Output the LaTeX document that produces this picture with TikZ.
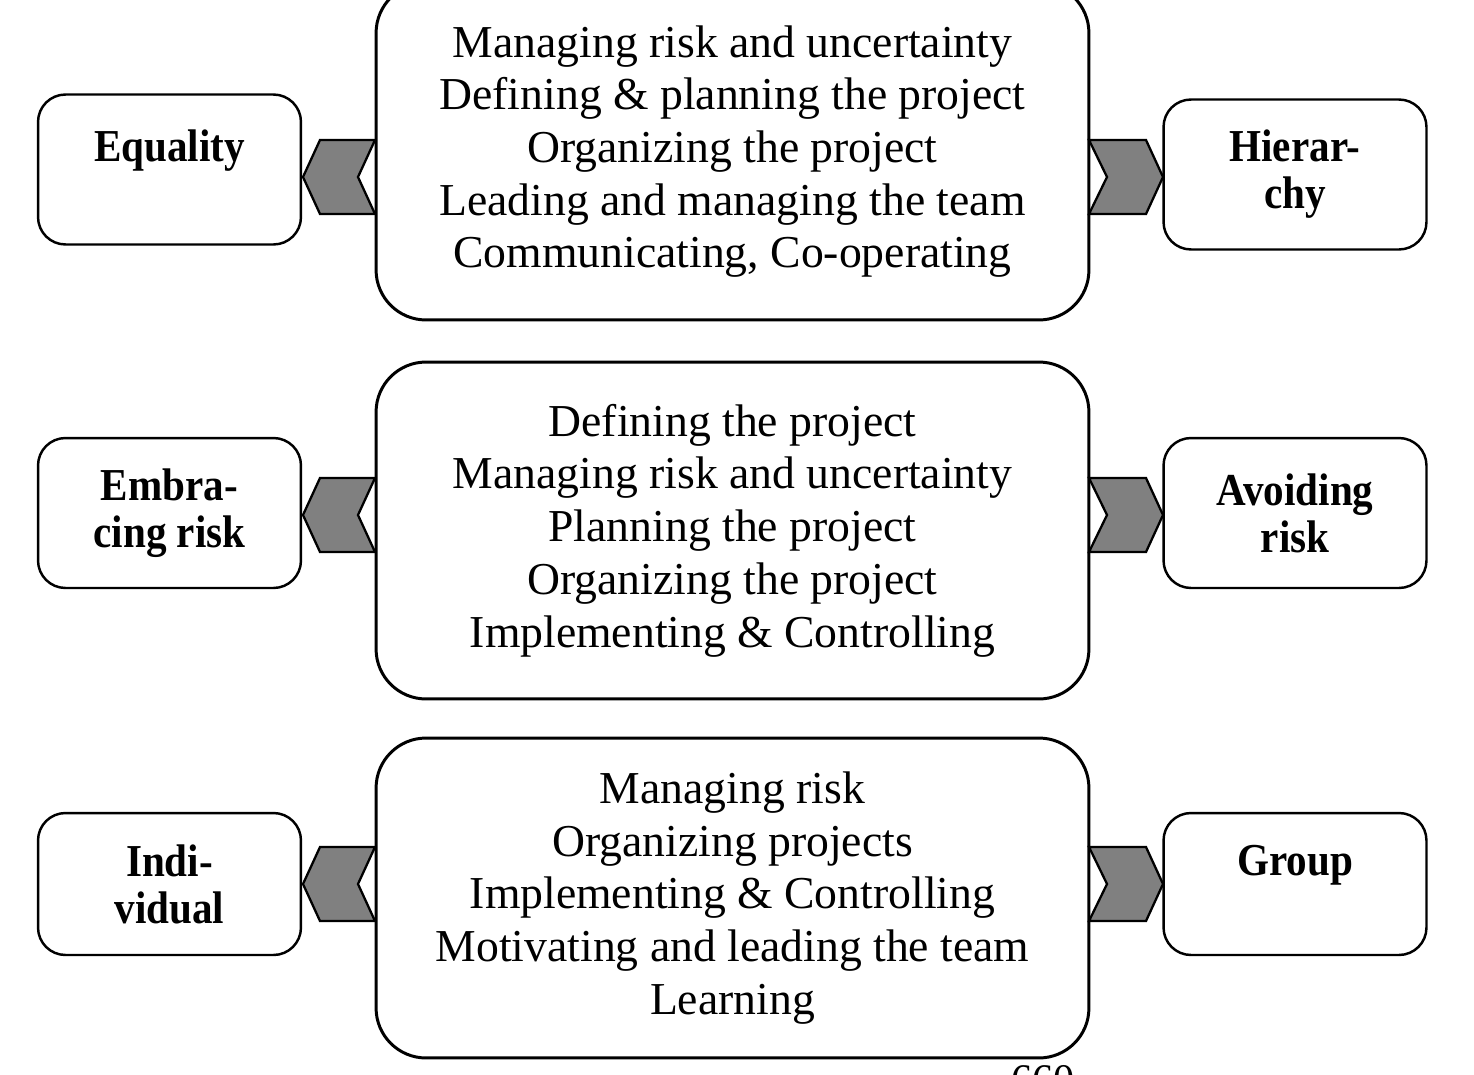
\documentclass[tikz,border=0pt]{standalone}
\usepackage{fontspec}
\setmainfont{Liberation Serif}
\newfontfamily\labelfont[FakeStretch=0.9]{Liberation Serif}
\usepackage{xcolor}
\usepackage{tikz}
\usetikzlibrary{positioning}

\begin{document}
\begin{tikzpicture}[
  x=0.02cm, y=-0.02cm,
  topics/.style={draw, line width=1.7pt, rectangle, rounded corners=1cm, align=center,
    minimum width=14.26cm, minimum height=6.74cm, inner sep=0pt,
    font=\fontsize{26}{30}\selectfont},
  dimension/.style={draw, line width=1.4pt, rectangle, rounded corners=0.55cm, align=center,
    minimum width=5.26cm, minimum height=3cm, inner sep=0pt,
    font=\labelfont\bfseries\fontsize{26}{26.7}\selectfont},
  chev/.style={draw, line width=1.3pt, fill=gray, line join=miter}
]
\useasboundingbox (0,0) rectangle (1474,1075);

% Blocs centraux
\node[topics] (topics1) at (732.5,151.5) {Managing risk and uncertainty\\
  Defining \& planning the project\\
  Organizing the project\\
  Leading and managing the team\\
  Communicating, Co-operating};

\node[topics] (topics2) at (732.5,530.5) {Defining the project\\
  Managing risk and uncertainty\\
  Planning the project\\
  Organizing the project\\
  Implementing \& Controlling};

\node[topics, minimum height=6.4cm] (topics3) at (732.5,898) {Managing risk\\
  Organizing projects\\
  Implementing \& Controlling\\
  Motivating and leading the team\\
  Learning};

% Dimensions
\node[dimension] (equality) at (169.5,169.5) {Equality\\~};
\node[dimension] (hierarchy) at (1295,174.5) {Hierar-\\chy};
\node[dimension] (embracing) at (169.5,513) {Embra-\\cing risk};
\node[dimension] (avoiding) at (1295,513) {Avoiding\\risk};
\node[dimension, minimum height=2.84cm] (individual) at (169.5,884) {Indi-\\vidual};
\node[dimension, minimum height=2.84cm] (group) at (1295,884) {Group\\~};

% Chevrons
\foreach \y in {177,515,884} {
  \draw[chev] (303,\y) -- (320,\y-37) -- (375,\y-37) -- (358,\y) -- (375,\y+37) -- (320,\y+37) -- cycle;
  \draw[chev] (1089,\y-37) -- (1146,\y-37) -- (1163,\y) -- (1146,\y+37) -- (1089,\y+37) -- (1107,\y) -- cycle;
}

% Numero de page
\node[anchor=base, font=\fontsize{24}{28}\selectfont] (page) at (1043,1093) {660};

\end{tikzpicture}
\end{document}
